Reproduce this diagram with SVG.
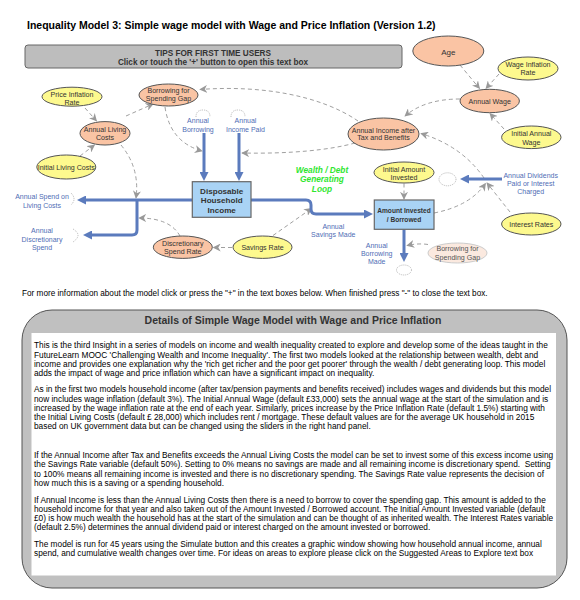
<svg xmlns="http://www.w3.org/2000/svg" width="580" height="600" viewBox="0 0 580 600">
<style>
text{font-family:"Liberation Sans",Arial,Helvetica,sans-serif;}
.title{font-size:10.5px;font-weight:bold;fill:#000;}
.tips{font-size:8.2px;font-weight:bold;fill:#333;text-anchor:middle;}
.nt{font-size:7.1px;fill:#333;text-anchor:middle;}
.bt{font-size:8.1px;font-weight:bold;fill:#333;text-anchor:middle;}
.fl{font-size:7px;fill:#4f6db5;text-anchor:middle;}
.loop{font-size:8.3px;font-weight:bold;font-style:italic;fill:#2ee62e;text-anchor:middle;}
.info{font-size:8.2px;fill:#000;}
.p{font-size:8.3px;fill:#000;}
.dt{font-size:10.5px;font-weight:bold;fill:#333;text-anchor:middle;}
.or{fill:#fac4a4;stroke:#555;stroke-width:1;}
.ye{fill:#fdf98e;stroke:#555;stroke-width:1;}
.gh{fill:#fbe9df;stroke:#ccc;stroke-width:1;}
.bx{fill:#a9d3f5;stroke:#666;stroke-width:1.2;}
.dc{fill:none;stroke:#a0a0a0;stroke-width:1;stroke-dasharray:4,3;marker-end:url(#da);}
.fw{fill:none;stroke:#5b7bbd;stroke-width:3;stroke-linejoin:round;}
.fa{fill:none;stroke:#5b7bbd;stroke-width:3;marker-end:url(#fa);}
.cl{fill:none;stroke:#999;stroke-width:0.7;stroke-dasharray:1,1;}
</style>
<defs>
<marker id="da" viewBox="0 0 10 10" refX="9" refY="5" markerWidth="8" markerHeight="8" markerUnits="userSpaceOnUse" orient="auto"><path d="M0,0 L10,5 L0,10 L3,5 z" fill="#999"/></marker>
<marker id="fa" viewBox="0 0 10 10" refX="0" refY="5" markerWidth="10" markerHeight="9" markerUnits="userSpaceOnUse" orient="auto"><path d="M0,0 L10,5 L0,10 z" fill="#5b7bbd"/></marker>
</defs>
<rect width="580" height="600" fill="#fff"/>
<text class="title" x="27" y="28.5">Inequality Model 3: Simple wage model with Wage and Price Inflation (Version 1.2)</text>

<g id="tips">
<rect x="25" y="45" width="377" height="23" rx="3" fill="#bdbdbd" stroke="#666" stroke-width="1"/>
<text class="tips" x="213" y="55.5">TIPS FOR FIRST TIME USERS</text>
<text class="tips" x="213" y="65">Click or touch the '+' button to open this text box</text>
</g>

<g id="connectors">
<path class="dc" d="M85,108 L96.5,121"/>
<path class="dc" d="M80,156 L94.5,145"/>
<path class="dc" d="M126,116 L153,104"/>
<path class="dc" d="M121,145 Q140,168 136,198"/>
<path class="dc" d="M165,107 Q170,142 202,151"/>
<path class="dc" d="M358,121 C320,95 260,85 200,89.5"/>
<path class="dc" d="M355,143 C330,150 290,154 242,153"/>
<path class="dc" d="M460,99 Q425,99 405,116"/>
<path class="dc" d="M460,65 L479.5,88.5"/>
<path class="dc" d="M499,74 L486,88.5"/>
<path class="dc" d="M504,129 L490,113.5"/>
<path class="dc" d="M484,178 Q462,146 421,133.5"/>
<path class="dc" d="M510,212 L487,183"/>
<path class="dc" d="M434,213 Q470,206 485.5,183.5"/>
<path class="dc" d="M404,183.5 L404,199"/>
<path class="dc" d="M428,244.5 Q418,243 407,245.5"/>
<path class="dc" d="M273,235.5 L311.5,208.5"/>
<path class="dc" d="M232,247.5 L213.5,247.5"/>
<path class="dc" d="M180,236 Q170,218 139,218"/>

<path class="fa" d="M204,133 V172"/>
<path class="fa" d="M239,133 V172"/>
<path class="fa" d="M192,200 H86"/>
<path class="fa" d="M137,200 V230 Q137,235 132,235 H92"/>
<path class="fa" d="M251,200 H306 Q311,200 311,205 V209 Q311,214 316,214 H364"/>
<path class="fa" d="M404,229.5 V253"/>
<path class="fa" d="M502,179 H469"/>

<path class="cl" d="M196,117 Q196,110 203,110 Q210,110 210,117"/>
<path class="cl" d="M231,117 Q231,110 238,110 Q245,110 245,117"/>
<path class="cl" d="M71,193 Q77,199 71,205"/>
<path class="cl" d="M73,229 Q83,235 73,242"/>
<ellipse class="cl" cx="447.5" cy="179.3" rx="8.5" ry="6.5"/>
<ellipse class="cl" cx="404" cy="270" rx="7.5" ry="5"/>

<text class="fl" x="198" y="123"><tspan x="198">Annual</tspan><tspan x="198" y="131.7">Borrowing</tspan></text>
<text class="fl" x="245.5" y="123"><tspan x="245.5">Annual</tspan><tspan x="245.5" y="131.7">Income Paid</tspan></text>
<text class="fl" x="42" y="199"><tspan x="42">Annual Spend on</tspan><tspan x="42" y="207.5">Living Costs</tspan></text>
<text class="fl" x="42" y="233"><tspan x="42">Annual</tspan><tspan x="42" y="241.5">Discretionary</tspan><tspan x="42" y="250">Spend</tspan></text>
<text class="fl" x="333.3" y="229"><tspan x="333.3">Annual</tspan><tspan x="333.3" y="236.7">Savings Made</tspan></text>
<text class="fl" x="376.7" y="248"><tspan x="376.7">Annual</tspan><tspan x="376.7" y="256.3">Borrowing</tspan><tspan x="376.7" y="264.3">Made</tspan></text>
<text class="fl" x="530.7" y="177.5"><tspan x="530.7">Annual Dividends</tspan><tspan x="530.7" y="185.8">Paid or Interest</tspan><tspan x="530.7" y="194">Charged</tspan></text>
</g>

<g id="loop"><text class="loop" x="322" y="173"><tspan x="322">Wealth / Debt</tspan><tspan x="322" y="182.3">Generating</tspan><tspan x="322" y="191.8">Loop</tspan></text></g>

<g id="age"><ellipse class="or" cx="448.3" cy="51" rx="35.5" ry="15"/><text class="nt" style="font-size:8px" x="448.3" y="54.8">Age</text></g>
<g id="wage-inflation-rate"><ellipse class="ye" cx="528" cy="68.5" rx="30" ry="11.5"/><text class="nt" x="528" y="67.3"><tspan x="528">Wage Inflation</tspan><tspan x="528" y="75.3">Rate</tspan></text></g>
<g id="annual-wage"><ellipse class="or" cx="489.7" cy="101" rx="29.7" ry="11.7"/><text class="nt" x="489.7" y="103.8">Annual Wage</text></g>
<g id="initial-annual-wage"><ellipse class="ye" cx="531.3" cy="137.3" rx="29.7" ry="11.3"/><text class="nt" x="531.3" y="136.2"><tspan x="531.3">Initial Annual</tspan><tspan x="531.3" y="144.6">Wage</tspan></text></g>
<g id="annual-income"><ellipse class="or" cx="383.5" cy="134" rx="35.5" ry="16"/><text class="nt" x="383.5" y="132.5"><tspan x="383.5">Annual Income after</tspan><tspan x="383.5" y="140.2">Tax and Benefits</tspan></text></g>
<g id="borrowing-gap"><ellipse class="or" cx="168.5" cy="95" rx="29.5" ry="11"/><text class="nt" x="168.5" y="93.2"><tspan x="168.5">Borrowing for</tspan><tspan x="168.5" y="101.2">Spending Gap</tspan></text></g>
<g id="price-inflation-rate"><ellipse class="ye" cx="72" cy="96.7" rx="30" ry="9.5"/><text class="nt" x="72" y="96.5"><tspan x="72">Price Inflation</tspan><tspan x="72" y="104.5">Rate</tspan></text></g>
<g id="annual-living-costs"><ellipse class="or" cx="105" cy="133.3" rx="25" ry="11.7"/><text class="nt" x="105" y="131.5"><tspan x="105">Annual Living</tspan><tspan x="105" y="140">Costs</tspan></text></g>
<g id="initial-living-costs"><ellipse class="ye" cx="66.3" cy="167" rx="29.5" ry="12"/><text class="nt" x="66.3" y="169.5">Initial Living Costs</text></g>
<g id="disposable-income"><rect class="bx" x="192.3" y="181.7" width="58.7" height="35.6"/><text class="bt" x="221.7" y="194"><tspan x="221.7">Disposable</tspan><tspan x="221.7" y="203.3">Household</tspan><tspan x="221.7" y="213">Income</tspan></text></g>
<g id="discretionary-spend-rate"><ellipse class="or" cx="182.8" cy="247.2" rx="29.5" ry="11.2"/><text class="nt" x="182.8" y="245.6"><tspan x="182.8">Discretionary</tspan><tspan x="182.8" y="254">Spend Rate</tspan></text></g>
<g id="savings-rate"><ellipse class="ye" cx="262.5" cy="247.2" rx="29.5" ry="11.2"/><text class="nt" x="262.5" y="249.8">Savings Rate</text></g>
<g id="amount-invested"><rect class="bx" x="374.3" y="200" width="59.7" height="29.3"/><text class="bt" style="font-size:6.6px" x="404" y="213.3"><tspan x="404">Amount Invested</tspan><tspan x="404" y="221.8">/ Borrowed</tspan></text></g>
<g id="initial-amount-invested"><ellipse class="ye" cx="404" cy="172.5" rx="30" ry="10.5"/><text class="nt" x="404" y="171.6"><tspan x="404">Initial Amount</tspan><tspan x="404" y="179.8">Invested</tspan></text></g>
<g id="interest-rates"><ellipse class="ye" cx="531.3" cy="224" rx="29.7" ry="11"/><text class="nt" x="531.3" y="226.6">Interest Rates</text></g>
<g id="borrowing-gap-ghost"><ellipse class="gh" cx="457.5" cy="253" rx="29.5" ry="10"/><text class="nt" style="fill:#555" x="457.5" y="251.4"><tspan x="457.5">Borrowing for</tspan><tspan x="457.5" y="260">Spending Gap</tspan></text></g>

<text class="info" x="22" y="296">For more information about the model click or press the "+" in the text boxes below. When finished press "-" to close the text box.</text>

<g id="details">
<rect x="22" y="310" width="545" height="278" rx="30" fill="#c0c0c0" stroke="#555" stroke-width="1"/>
<rect x="31.5" y="333" width="524.5" height="242.5" fill="#fff"/>
<text class="dt" x="293" y="324">Details of Simple Wage Model with Wage and Price Inflation</text>
<text class="p" x="34" y="348.3">This is the third Insight in a series of models on income and wealth inequality created to explore and develop some of the ideas taught in the</text>
<text class="p" x="34" y="357.5">FutureLearn MOOC 'Challenging Wealth and Income Inequality'. The first two models looked at the relationship between wealth, debt and</text>
<text class="p" x="34" y="366.7">income and provides one explanation why the 'rich get richer and the poor get poorer' through the wealth / debt generating loop. This model</text>
<text class="p" x="34" y="375.9">adds the impact of wage and price inflation which can have a significant impact on inequality.</text>
<text class="p" x="34" y="392.3">As in the first two models household income (after tax/pension payments and benefits received) includes wages and dividends but this model</text>
<text class="p" x="34" y="401.5">now includes wage inflation (default 3%). The Initial Annual Wage (default £33,000) sets the annual wage at the start of the simulation and is</text>
<text class="p" x="34" y="410.7">increased by the wage inflation rate at the end of each year. Similarly, prices increase by the Price Inflation Rate (default 1.5%) starting with</text>
<text class="p" x="34" y="419.9">the Initial Living Costs (default £ 28,000) which includes rent / mortgage. These default values are for the average UK household in 2015</text>
<text class="p" x="34" y="429.1">based on UK government data but can be changed using the sliders in the right hand panel.</text>
<text class="p" x="34" y="458.1">If the Annual Income after Tax and Benefits exceeds the Annual Living Costs the model can be set to invest some of this excess income using</text>
<text class="p" x="34" y="467.3">the Savings Rate variable (default 50%). Setting to 0% means no savings are made and all remaining income is discretionary spend.&#160; Setting</text>
<text class="p" x="34" y="476.5">to 100% means all remaining income is invested and there is no discretionary spending. The Savings Rate value represents the decision of</text>
<text class="p" x="34" y="485.7">how much this is a saving or a spending household.</text>
<text class="p" x="34" y="502.7">If Annual Income is less than the Annual Living Costs then there is a need to borrow to cover the spending gap. This amount is added to the</text>
<text class="p" x="34" y="511.9">household income for that year and also taken out of the Amount Invested / Borrowed account. The Initial Amount Invested variable (default</text>
<text class="p" x="34" y="521.1">£0) is how much wealth the household has at the start of the simulation and can be thought of as inherited wealth. The Interest Rates variable</text>
<text class="p" x="34" y="530.3">(default 2.5%) determines the annual dividend paid or interest charged on the amount invested or borrowed.</text>
<text class="p" x="34" y="547.1">The model is run for 45 years using the Simulate button and this creates a graphic window showing how household annual income, annual</text>
<text class="p" x="34" y="556.3">spend, and cumulative wealth changes over time. For ideas on areas to explore please click on the Suggested Areas to Explore text box</text>
</g>
</svg>
